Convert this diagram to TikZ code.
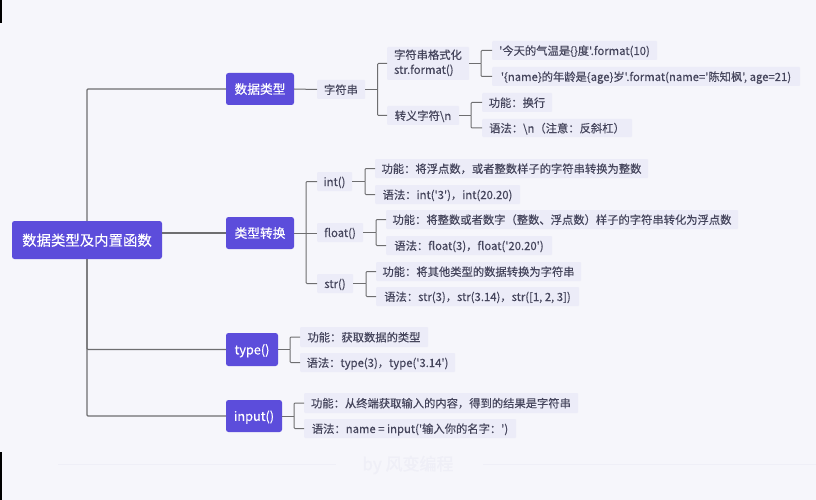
\documentclass[tikz,border=0pt]{standalone}
\usepackage{fontspec}
\newfontfamily\cjk[FakeBold=0.25]{Noto Sans CJK SC}
\definecolor{pagebg}{HTML}{F6F6FB}
\definecolor{mainbox}{HTML}{5C4DDB}
\definecolor{subbox}{HTML}{ECECF8}
\definecolor{inktext}{HTML}{45455C}
\definecolor{linkgray}{HTML}{6E6E70}
\definecolor{wmark}{HTML}{EFEFF7}
\tikzset{
  base/.style={inner sep=0pt,outer sep=0pt,rounded corners=2.5pt,font=\cjk},
  mainb/.style={base,fill=mainbox,text=white,font=\cjk\fontsize{12.7}{15}\selectfont,text height=11pt,text depth=1.2pt},
  rootb/.style={mainb,font=\cjk\fontsize{14.4}{17}\selectfont,text height=12.7pt,text depth=1.4pt},
  subb/.style={base,fill=subbox,text=inktext,rounded corners=1pt,font=\cjk\fontsize{11.3}{14.8}\selectfont,text height=10pt,text depth=1pt},
  trunk/.style={draw=linkgray,line width=1.4pt,rounded corners=1pt},
  twig/.style={draw=linkgray,line width=1pt,rounded corners=1pt},
}
\newcommand{\bx}[7][]{%
  \node[#6,#1,minimum width={(#4-#2)*1pt},minimum height={(#5-#3)*1pt}] (#7) at ({(#2+#4)/2},{(#3+#5)/2})}
\newcommand{\fork}[3]{%
  \draw[twig] (#1.east) -- ++(#2,0) coordinate (j#1);
  \foreach \kid in {#3} {\draw[twig] (\kid.west) -| (j#1);}}
\begin{document}
\begin{tikzpicture}[x=1pt,y=-1pt]
\useasboundingbox (0,0) rectangle (816,500);
\fill[pagebg] (0,0) rectangle (816,500);
\fill[black] (0,0) rectangle (1.6,23);
\fill[black] (0,452) rectangle (1.6,500);
% watermark
\coordinate (wl1) at (58,464.5); \coordinate (wl2) at (336,464.5);
\coordinate (wr1) at (483,464.5); \coordinate (wr2) at (816,464.5);
\draw[wmark,line width=.8pt] (wl1) -- (wl2);
\draw[wmark,line width=.8pt] (wr1) -- (wr2);
\node[font=\cjk\fontsize{17}{19}\selectfont,text=wmark,inner sep=0pt] (wm) at (408,465) {by 风变编程};
% main nodes
\bx{12}{221}{162}{259}{rootb}{root}{数据类型及内置函数};
\bx{226}{73}{294}{105}{mainb}{a}{数据类型};
\bx{226}{217}{294}{249}{mainb}{b}{类型转换};
\bx{226}{333}{278}{366}{mainb}{c}{type()};
\bx{226}{400}{282}{432}{mainb}{d}{input()};
% second level
\bx{317}{80}{365}{99}{subb}{a1}{字符串};
\bx[text height=,text depth=]{387}{47}{469}{80}{subb}{a11}{\begin{tabular}{@{}l@{}}字符串格式化\\str.format()\end{tabular}};
\bx{387}{106}{459}{125}{subb}{a12}{转义字符\textbackslash n};
\bx{492}{41}{657}{60}{subb}{a111}{'今天的气温是\{\}度'.format(10)};
\bx{492}{67}{800}{86}{subb}{a112}{'\{name\}的年龄是\{age\}岁'.format(name='陈知枫', age=21)};
\bx{482}{93}{552}{112}{subb}{a121}{功能：换行};
\bx{482}{119}{632}{137}{subb}{a122}{语法：\textbackslash n（注意：反斜杠）};
\bx{317}{172}{352}{191}{subb}{b1}{int()};
\bx{317}{223}{363}{242}{subb}{b2}{float()};
\bx{317}{274}{353}{293}{subb}{b3}{str()};
\bx{375}{159}{648}{178}{subb}{b11}{功能：将浮点数，或者整数样子的字符串转换为整数};
\bx{375}{185}{520}{204}{subb}{b12}{语法：int('3')，int(20.20)};
\bx{386}{210}{738}{229}{subb}{b21}{功能：将整数或者数字（整数、浮点数）样子的字符串转化为浮点数};
\bx{386}{236}{552}{255}{subb}{b22}{语法：float(3)，float('20.20')};
\bx{376}{262}{581}{281}{subb}{b31}{功能：将其他类型的数据转换为字符串};
\bx{376}{287}{579}{306}{subb}{b32}{语法：str(3)，str(3.14)，str([1, 2, 3])};
\bx{300}{327}{428}{347}{subb}{c1}{功能：获取数据的类型};
\bx{300}{353}{455}{372}{subb}{c2}{语法：type(3)，type('3.14')};
\bx{304}{393}{578}{413}{subb}{d1}{功能：从终端获取输入的内容，得到的结果是字符串};
\bx{304}{419}{516}{438}{subb}{d2}{语法：name = input('输入你的名字：')};
% connectors
\draw[trunk] (root.north) |- (a.west);
\draw[trunk] (root.east |- b.west) -- (b.west);
\draw[trunk] (root.south) |- (c.west);
\draw[trunk] (root.south) |- (d.west);
\draw[twig] (a.east) -- (a1.west);
\fork{a1}{12.5}{a11,a12}
\fork{a11}{12}{a111,a112}
\fork{a12}{12}{a121,a122}
\draw[twig] (b.east) -- (b2.west |- b.east);
\coordinate (jb) at ([xshift=12pt]b.east);
\draw[twig] (b1.west) -| (jb);
\draw[twig] (b3.west) -| (jb);
\fork{b1}{13}{b11,b12}
\fork{b2}{13}{b21,b22}
\fork{b3}{13}{b31,b32}
\fork{c}{12}{c1,c2}
\fork{d}{12}{d1,d2}
\end{tikzpicture}
\end{document}
